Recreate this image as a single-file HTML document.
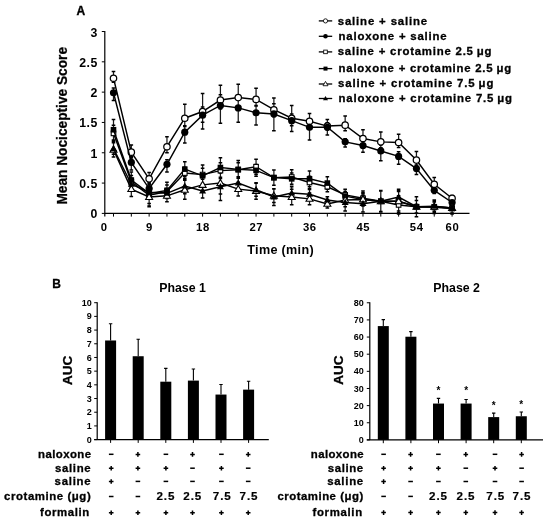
<!DOCTYPE html>
<html><head><meta charset="utf-8"><title>Figure</title>
<style>html,body{margin:0;padding:0;background:#fff;}svg{display:block;}</style></head>
<body><svg width="550" height="522" viewBox="0 0 550 522" font-family="Liberation Sans, Arial, sans-serif" font-weight="bold" fill="#000">
<rect width="550" height="522" fill="#fff"/>
<path d="M104.8,31 V216.5 M104.8,213.4 H469.5" stroke="#000" stroke-width="1.2" fill="none"/>
<path d="M101.8,213.40 H104.8 M101.8,183.09 H104.8 M101.8,152.77 H104.8 M101.8,122.45 H104.8 M101.8,92.14 H104.8 M101.8,61.82 H104.8 M101.8,31.51 H104.8 M113.50,213.4 V216.6 M131.32,213.4 V216.6 M149.14,213.4 V216.6 M166.96,213.4 V216.6 M184.78,213.4 V216.6 M202.60,213.4 V216.6 M220.42,213.4 V216.6 M238.24,213.4 V216.6 M256.06,213.4 V216.6 M273.88,213.4 V216.6 M291.70,213.4 V216.6 M309.52,213.4 V216.6 M327.34,213.4 V216.6 M345.16,213.4 V216.6 M362.98,213.4 V216.6 M380.80,213.4 V216.6 M398.62,213.4 V216.6 M416.44,213.4 V216.6 M434.26,213.4 V216.6 M452.08,213.4 V216.6" stroke="#000" stroke-width="1" fill="none"/>
<text x="97.4" y="218.40" font-size="12.3" text-anchor="end">0</text>
<text x="97.4" y="188.09" font-size="12.3" text-anchor="end" textLength="18.2" lengthAdjust="spacing">0.5</text>
<text x="97.4" y="157.77" font-size="12.3" text-anchor="end">1</text>
<text x="97.4" y="127.45" font-size="12.3" text-anchor="end" textLength="18.2" lengthAdjust="spacing">1.5</text>
<text x="97.4" y="97.14" font-size="12.3" text-anchor="end">2</text>
<text x="97.4" y="66.82" font-size="12.3" text-anchor="end" textLength="18.2" lengthAdjust="spacing">2.5</text>
<text x="97.4" y="36.51" font-size="12.3" text-anchor="end">3</text>
<text x="103.80" y="230.5" font-size="11.3" text-anchor="middle">0</text>
<text x="149.14" y="230.5" font-size="11.3" text-anchor="middle">9</text>
<text x="202.60" y="230.5" font-size="11.3" text-anchor="middle" textLength="13.2" lengthAdjust="spacing">18</text>
<text x="256.06" y="230.5" font-size="11.3" text-anchor="middle" textLength="13.2" lengthAdjust="spacing">27</text>
<text x="309.52" y="230.5" font-size="11.3" text-anchor="middle" textLength="13.2" lengthAdjust="spacing">36</text>
<text x="362.98" y="230.5" font-size="11.3" text-anchor="middle" textLength="13.2" lengthAdjust="spacing">45</text>
<text x="416.44" y="230.5" font-size="11.3" text-anchor="middle" textLength="13.2" lengthAdjust="spacing">54</text>
<text x="452.08" y="230.5" font-size="11.3" text-anchor="middle" textLength="13.2" lengthAdjust="spacing">60</text>
<text x="247.3" y="253.7" font-size="12.6" textLength="66.3" lengthAdjust="spacing">Time (min)</text>
<text transform="translate(66.7,204.6) rotate(-90)" x="0" y="0" font-size="14" textLength="157.6" lengthAdjust="spacingAndGlyphs" stroke="#000" stroke-width="0.25">Mean Nociceptive Score</text>
<text x="76.6" y="15.3" font-size="12" stroke="#000" stroke-width="0.35">A</text>
<path d="M113.50,71.50 V82.21 M113.50,88.03 V100.60 M113.50,125.18 V141.55 M113.50,119.50 V139.96 M113.50,142.48 V157.00 M113.50,142.72 V154.34 M131.32,145.00 V156.46 M131.32,157.95 V170.00 M131.32,175.43 V188.32 M131.32,172.00 V188.11 M131.32,181.70 V196.60 M131.32,178.34 V190.26 M149.14,172.50 V182.65 M149.14,184.07 V196.00 M149.14,184.50 V205.92 M149.14,180.00 V206.78 M149.14,190.56 V203.50 M149.14,187.00 V197.36 M166.96,136.70 V152.71 M166.96,159.66 V172.00 M166.96,185.04 V198.10 M166.96,182.20 V198.52 M166.96,189.83 V201.80 M166.96,188.61 V198.18 M184.78,104.20 V126.62 M184.78,125.71 V142.90 M184.78,167.21 V178.95 M184.78,161.80 V176.48 M184.78,180.31 V199.20 M184.78,178.56 V193.67 M202.60,93.50 V122.37 M202.60,106.89 V129.00 M202.60,165.00 V184.19 M202.60,168.13 V183.49 M202.60,179.28 V190.53 M202.60,183.93 V198.00 M220.42,85.20 V108.92 M220.42,94.85 V123.20 M220.42,162.75 V178.44 M220.42,157.70 V177.31 M220.42,172.14 V194.03 M220.42,173.05 V200.40 M238.24,84.20 V105.63 M238.24,99.33 V122.20 M238.24,162.72 V176.77 M238.24,160.60 V178.17 M238.24,182.30 V196.00 M238.24,177.60 V188.57 M256.06,88.30 V106.08 M256.06,105.41 V125.00 M256.06,159.30 V174.13 M256.06,164.42 V176.28 M256.06,182.73 V199.20 M256.06,183.17 V196.34 M273.88,98.00 V116.76 M273.88,103.87 V130.80 M273.88,170.00 V185.26 M273.88,170.00 V185.26 M273.88,189.12 V202.51 M273.88,188.66 V205.40 M291.70,105.50 V125.84 M291.70,114.12 V131.50 M291.70,169.70 V184.34 M291.70,172.98 V184.70 M291.70,189.26 V204.80 M291.70,186.87 V199.31 M309.52,113.50 V125.89 M309.52,119.69 V140.00 M309.52,176.21 V188.75 M309.52,171.00 V186.68 M309.52,192.90 V204.80 M309.52,189.54 V199.06 M327.34,119.40 V130.11 M327.34,122.69 V135.00 M327.34,181.69 V191.75 M327.34,176.80 V189.37 M327.34,199.86 V207.90 M327.34,196.85 V203.28 M345.16,115.90 V130.75 M345.16,138.77 V147.00 M345.16,189.20 V200.62 M345.16,191.55 V200.69 M345.16,193.25 V206.87 M345.16,193.97 V211.00 M362.98,129.70 V143.82 M362.98,141.47 V152.20 M362.98,191.00 V205.49 M362.98,193.66 V205.25 M362.98,192.81 V206.10 M362.98,195.40 V212.00 M380.80,132.10 V147.71 M380.80,145.04 V160.80 M380.80,191.10 V211.45 M380.80,191.10 V211.45 M380.80,190.55 V212.00 M380.80,190.55 V212.00 M398.62,134.20 V147.42 M398.62,151.67 V164.30 M398.62,195.81 V214.01 M398.62,189.90 V212.65 M398.62,191.55 V211.00 M398.62,189.25 V204.81 M416.44,151.50 V165.17 M416.44,164.89 V174.60 M416.44,196.70 V216.76 M416.44,196.70 V216.76 M416.44,200.46 V213.00 M416.44,200.46 V213.00 M434.26,177.40 V188.44 M434.26,188.42 V193.60 M434.26,201.95 V212.72 M434.26,200.00 V213.46 M434.26,200.46 V213.00 M434.26,201.11 V211.14 M452.08,195.40 V199.95 M452.08,200.56 V205.70 M452.08,203.79 V213.30 M452.08,202.00 V213.89 M452.08,202.89 V213.00 M452.08,202.89 V213.00" stroke="#1a1a1a" stroke-width="1.25" fill="none"/>
<path d="M111.70,71.50 H115.30 M111.70,82.21 H115.30 M111.70,88.03 H115.30 M111.70,100.60 H115.30 M111.70,125.18 H115.30 M111.70,141.55 H115.30 M111.70,119.50 H115.30 M111.70,139.96 H115.30 M111.70,142.48 H115.30 M111.70,157.00 H115.30 M111.70,142.72 H115.30 M111.70,154.34 H115.30 M129.52,145.00 H133.12 M129.52,156.46 H133.12 M129.52,157.95 H133.12 M129.52,170.00 H133.12 M129.52,175.43 H133.12 M129.52,188.32 H133.12 M129.52,172.00 H133.12 M129.52,188.11 H133.12 M129.52,181.70 H133.12 M129.52,196.60 H133.12 M129.52,178.34 H133.12 M129.52,190.26 H133.12 M147.34,172.50 H150.94 M147.34,182.65 H150.94 M147.34,184.07 H150.94 M147.34,196.00 H150.94 M147.34,184.50 H150.94 M147.34,205.92 H150.94 M147.34,180.00 H150.94 M147.34,206.78 H150.94 M147.34,190.56 H150.94 M147.34,203.50 H150.94 M147.34,187.00 H150.94 M147.34,197.36 H150.94 M165.16,136.70 H168.76 M165.16,152.71 H168.76 M165.16,159.66 H168.76 M165.16,172.00 H168.76 M165.16,185.04 H168.76 M165.16,198.10 H168.76 M165.16,182.20 H168.76 M165.16,198.52 H168.76 M165.16,189.83 H168.76 M165.16,201.80 H168.76 M165.16,188.61 H168.76 M165.16,198.18 H168.76 M182.98,104.20 H186.58 M182.98,126.62 H186.58 M182.98,125.71 H186.58 M182.98,142.90 H186.58 M182.98,167.21 H186.58 M182.98,178.95 H186.58 M182.98,161.80 H186.58 M182.98,176.48 H186.58 M182.98,180.31 H186.58 M182.98,199.20 H186.58 M182.98,178.56 H186.58 M182.98,193.67 H186.58 M200.80,93.50 H204.40 M200.80,122.37 H204.40 M200.80,106.89 H204.40 M200.80,129.00 H204.40 M200.80,165.00 H204.40 M200.80,184.19 H204.40 M200.80,168.13 H204.40 M200.80,183.49 H204.40 M200.80,179.28 H204.40 M200.80,190.53 H204.40 M200.80,183.93 H204.40 M200.80,198.00 H204.40 M218.62,85.20 H222.22 M218.62,108.92 H222.22 M218.62,94.85 H222.22 M218.62,123.20 H222.22 M218.62,162.75 H222.22 M218.62,178.44 H222.22 M218.62,157.70 H222.22 M218.62,177.31 H222.22 M218.62,172.14 H222.22 M218.62,194.03 H222.22 M218.62,173.05 H222.22 M218.62,200.40 H222.22 M236.44,84.20 H240.04 M236.44,105.63 H240.04 M236.44,99.33 H240.04 M236.44,122.20 H240.04 M236.44,162.72 H240.04 M236.44,176.77 H240.04 M236.44,160.60 H240.04 M236.44,178.17 H240.04 M236.44,182.30 H240.04 M236.44,196.00 H240.04 M236.44,177.60 H240.04 M236.44,188.57 H240.04 M254.26,88.30 H257.86 M254.26,106.08 H257.86 M254.26,105.41 H257.86 M254.26,125.00 H257.86 M254.26,159.30 H257.86 M254.26,174.13 H257.86 M254.26,164.42 H257.86 M254.26,176.28 H257.86 M254.26,182.73 H257.86 M254.26,199.20 H257.86 M254.26,183.17 H257.86 M254.26,196.34 H257.86 M272.08,98.00 H275.68 M272.08,116.76 H275.68 M272.08,103.87 H275.68 M272.08,130.80 H275.68 M272.08,170.00 H275.68 M272.08,185.26 H275.68 M272.08,170.00 H275.68 M272.08,185.26 H275.68 M272.08,189.12 H275.68 M272.08,202.51 H275.68 M272.08,188.66 H275.68 M272.08,205.40 H275.68 M289.90,105.50 H293.50 M289.90,125.84 H293.50 M289.90,114.12 H293.50 M289.90,131.50 H293.50 M289.90,169.70 H293.50 M289.90,184.34 H293.50 M289.90,172.98 H293.50 M289.90,184.70 H293.50 M289.90,189.26 H293.50 M289.90,204.80 H293.50 M289.90,186.87 H293.50 M289.90,199.31 H293.50 M307.72,113.50 H311.32 M307.72,125.89 H311.32 M307.72,119.69 H311.32 M307.72,140.00 H311.32 M307.72,176.21 H311.32 M307.72,188.75 H311.32 M307.72,171.00 H311.32 M307.72,186.68 H311.32 M307.72,192.90 H311.32 M307.72,204.80 H311.32 M307.72,189.54 H311.32 M307.72,199.06 H311.32 M325.54,119.40 H329.14 M325.54,130.11 H329.14 M325.54,122.69 H329.14 M325.54,135.00 H329.14 M325.54,181.69 H329.14 M325.54,191.75 H329.14 M325.54,176.80 H329.14 M325.54,189.37 H329.14 M325.54,199.86 H329.14 M325.54,207.90 H329.14 M325.54,196.85 H329.14 M325.54,203.28 H329.14 M343.36,115.90 H346.96 M343.36,130.75 H346.96 M343.36,138.77 H346.96 M343.36,147.00 H346.96 M343.36,189.20 H346.96 M343.36,200.62 H346.96 M343.36,191.55 H346.96 M343.36,200.69 H346.96 M343.36,193.25 H346.96 M343.36,206.87 H346.96 M343.36,193.97 H346.96 M343.36,211.00 H346.96 M361.18,129.70 H364.78 M361.18,143.82 H364.78 M361.18,141.47 H364.78 M361.18,152.20 H364.78 M361.18,191.00 H364.78 M361.18,205.49 H364.78 M361.18,193.66 H364.78 M361.18,205.25 H364.78 M361.18,192.81 H364.78 M361.18,206.10 H364.78 M361.18,195.40 H364.78 M361.18,212.00 H364.78 M379.00,132.10 H382.60 M379.00,147.71 H382.60 M379.00,145.04 H382.60 M379.00,160.80 H382.60 M379.00,191.10 H382.60 M379.00,211.45 H382.60 M379.00,191.10 H382.60 M379.00,211.45 H382.60 M379.00,190.55 H382.60 M379.00,212.00 H382.60 M379.00,190.55 H382.60 M379.00,212.00 H382.60 M396.82,134.20 H400.42 M396.82,147.42 H400.42 M396.82,151.67 H400.42 M396.82,164.30 H400.42 M396.82,195.81 H400.42 M396.82,214.01 H400.42 M396.82,189.90 H400.42 M396.82,212.65 H400.42 M396.82,191.55 H400.42 M396.82,211.00 H400.42 M396.82,189.25 H400.42 M396.82,204.81 H400.42 M414.64,151.50 H418.24 M414.64,165.17 H418.24 M414.64,164.89 H418.24 M414.64,174.60 H418.24 M414.64,196.70 H418.24 M414.64,216.76 H418.24 M414.64,196.70 H418.24 M414.64,216.76 H418.24 M414.64,200.46 H418.24 M414.64,213.00 H418.24 M414.64,200.46 H418.24 M414.64,213.00 H418.24 M432.46,177.40 H436.06 M432.46,188.44 H436.06 M432.46,188.42 H436.06 M432.46,193.60 H436.06 M432.46,201.95 H436.06 M432.46,212.72 H436.06 M432.46,200.00 H436.06 M432.46,213.46 H436.06 M432.46,200.46 H436.06 M432.46,213.00 H436.06 M432.46,201.11 H436.06 M432.46,211.14 H436.06 M450.28,195.40 H453.88 M450.28,199.95 H453.88 M450.28,200.56 H453.88 M450.28,205.70 H453.88 M450.28,203.79 H453.88 M450.28,213.30 H453.88 M450.28,202.00 H453.88 M450.28,213.89 H453.88 M450.28,202.89 H453.88 M450.28,213.00 H453.88 M450.28,202.89 H453.88 M450.28,213.00 H453.88" stroke="#000" stroke-width="1.5" fill="none"/>
<polyline points="113.50,78.20 131.32,152.16 149.14,178.84 166.96,146.71 184.78,118.21 202.60,111.54 220.42,100.02 238.24,97.60 256.06,99.42 273.88,109.72 291.70,118.21 309.52,121.24 327.34,126.09 345.16,125.18 362.98,138.52 380.80,141.86 398.62,142.46 416.44,160.05 434.26,184.30 452.08,198.24" fill="none" stroke="#000" stroke-width="1.45"/>
<circle cx="113.50" cy="78.20" r="3.2" fill="#fff" stroke="#000" stroke-width="1.25"/>
<circle cx="131.32" cy="152.16" r="3.2" fill="#fff" stroke="#000" stroke-width="1.25"/>
<circle cx="149.14" cy="178.84" r="3.2" fill="#fff" stroke="#000" stroke-width="1.25"/>
<circle cx="166.96" cy="146.71" r="3.2" fill="#fff" stroke="#000" stroke-width="1.25"/>
<circle cx="184.78" cy="118.21" r="3.2" fill="#fff" stroke="#000" stroke-width="1.25"/>
<circle cx="202.60" cy="111.54" r="3.2" fill="#fff" stroke="#000" stroke-width="1.25"/>
<circle cx="220.42" cy="100.02" r="3.2" fill="#fff" stroke="#000" stroke-width="1.25"/>
<circle cx="238.24" cy="97.60" r="3.2" fill="#fff" stroke="#000" stroke-width="1.25"/>
<circle cx="256.06" cy="99.42" r="3.2" fill="#fff" stroke="#000" stroke-width="1.25"/>
<circle cx="273.88" cy="109.72" r="3.2" fill="#fff" stroke="#000" stroke-width="1.25"/>
<circle cx="291.70" cy="118.21" r="3.2" fill="#fff" stroke="#000" stroke-width="1.25"/>
<circle cx="309.52" cy="121.24" r="3.2" fill="#fff" stroke="#000" stroke-width="1.25"/>
<circle cx="327.34" cy="126.09" r="3.2" fill="#fff" stroke="#000" stroke-width="1.25"/>
<circle cx="345.16" cy="125.18" r="3.2" fill="#fff" stroke="#000" stroke-width="1.25"/>
<circle cx="362.98" cy="138.52" r="3.2" fill="#fff" stroke="#000" stroke-width="1.25"/>
<circle cx="380.80" cy="141.86" r="3.2" fill="#fff" stroke="#000" stroke-width="1.25"/>
<circle cx="398.62" cy="142.46" r="3.2" fill="#fff" stroke="#000" stroke-width="1.25"/>
<circle cx="416.44" cy="160.05" r="3.2" fill="#fff" stroke="#000" stroke-width="1.25"/>
<circle cx="434.26" cy="184.30" r="3.2" fill="#fff" stroke="#000" stroke-width="1.25"/>
<circle cx="452.08" cy="198.24" r="3.2" fill="#fff" stroke="#000" stroke-width="1.25"/>
<polyline points="113.50,92.75 131.32,162.47 149.14,188.54 166.96,164.29 184.78,132.16 202.60,115.18 220.42,105.48 238.24,107.90 256.06,112.75 273.88,113.97 291.70,120.64 309.52,127.31 327.34,127.31 345.16,141.86 362.98,145.49 380.80,150.95 398.62,156.41 416.44,168.53 434.26,190.36 452.08,202.49" fill="none" stroke="#000" stroke-width="1.45"/>
<circle cx="113.50" cy="92.75" r="3.6" fill="#000"/>
<circle cx="131.32" cy="162.47" r="3.6" fill="#000"/>
<circle cx="149.14" cy="188.54" r="3.6" fill="#000"/>
<circle cx="166.96" cy="164.29" r="3.6" fill="#000"/>
<circle cx="184.78" cy="132.16" r="3.6" fill="#000"/>
<circle cx="202.60" cy="115.18" r="3.6" fill="#000"/>
<circle cx="220.42" cy="105.48" r="3.6" fill="#000"/>
<circle cx="238.24" cy="107.90" r="3.6" fill="#000"/>
<circle cx="256.06" cy="112.75" r="3.6" fill="#000"/>
<circle cx="273.88" cy="113.97" r="3.6" fill="#000"/>
<circle cx="291.70" cy="120.64" r="3.6" fill="#000"/>
<circle cx="309.52" cy="127.31" r="3.6" fill="#000"/>
<circle cx="327.34" cy="127.31" r="3.6" fill="#000"/>
<circle cx="345.16" cy="141.86" r="3.6" fill="#000"/>
<circle cx="362.98" cy="145.49" r="3.6" fill="#000"/>
<circle cx="380.80" cy="150.95" r="3.6" fill="#000"/>
<circle cx="398.62" cy="156.41" r="3.6" fill="#000"/>
<circle cx="416.44" cy="168.53" r="3.6" fill="#000"/>
<circle cx="434.26" cy="190.36" r="3.6" fill="#000"/>
<circle cx="452.08" cy="202.49" r="3.6" fill="#000"/>
<polyline points="113.50,133.37 131.32,181.87 149.14,195.21 166.96,191.57 184.78,173.08 202.60,174.60 220.42,170.60 238.24,169.75 256.06,166.71 273.88,177.63 291.70,177.02 309.52,182.48 327.34,186.72 345.16,194.91 362.98,198.24 380.80,201.27 398.62,204.91 416.44,206.73 434.26,207.34 452.08,208.55" fill="none" stroke="#000" stroke-width="1.45"/>
<rect x="111.20" y="131.07" width="4.6" height="4.6" fill="#fff" stroke="#000" stroke-width="1.1"/>
<rect x="129.02" y="179.57" width="4.6" height="4.6" fill="#fff" stroke="#000" stroke-width="1.1"/>
<rect x="146.84" y="192.91" width="4.6" height="4.6" fill="#fff" stroke="#000" stroke-width="1.1"/>
<rect x="164.66" y="189.27" width="4.6" height="4.6" fill="#fff" stroke="#000" stroke-width="1.1"/>
<rect x="182.48" y="170.78" width="4.6" height="4.6" fill="#fff" stroke="#000" stroke-width="1.1"/>
<rect x="200.30" y="172.30" width="4.6" height="4.6" fill="#fff" stroke="#000" stroke-width="1.1"/>
<rect x="218.12" y="168.30" width="4.6" height="4.6" fill="#fff" stroke="#000" stroke-width="1.1"/>
<rect x="235.94" y="167.45" width="4.6" height="4.6" fill="#fff" stroke="#000" stroke-width="1.1"/>
<rect x="253.76" y="164.41" width="4.6" height="4.6" fill="#fff" stroke="#000" stroke-width="1.1"/>
<rect x="271.58" y="175.33" width="4.6" height="4.6" fill="#fff" stroke="#000" stroke-width="1.1"/>
<rect x="289.40" y="174.72" width="4.6" height="4.6" fill="#fff" stroke="#000" stroke-width="1.1"/>
<rect x="307.22" y="180.18" width="4.6" height="4.6" fill="#fff" stroke="#000" stroke-width="1.1"/>
<rect x="325.04" y="184.42" width="4.6" height="4.6" fill="#fff" stroke="#000" stroke-width="1.1"/>
<rect x="342.86" y="192.61" width="4.6" height="4.6" fill="#fff" stroke="#000" stroke-width="1.1"/>
<rect x="360.68" y="195.94" width="4.6" height="4.6" fill="#fff" stroke="#000" stroke-width="1.1"/>
<rect x="378.50" y="198.97" width="4.6" height="4.6" fill="#fff" stroke="#000" stroke-width="1.1"/>
<rect x="396.32" y="202.61" width="4.6" height="4.6" fill="#fff" stroke="#000" stroke-width="1.1"/>
<rect x="414.14" y="204.43" width="4.6" height="4.6" fill="#fff" stroke="#000" stroke-width="1.1"/>
<rect x="431.96" y="205.04" width="4.6" height="4.6" fill="#fff" stroke="#000" stroke-width="1.1"/>
<rect x="449.78" y="206.25" width="4.6" height="4.6" fill="#fff" stroke="#000" stroke-width="1.1"/>
<polyline points="113.50,129.73 131.32,180.05 149.14,193.39 166.96,190.36 184.78,169.14 202.60,175.81 220.42,167.50 238.24,169.38 256.06,170.35 273.88,177.63 291.70,178.84 309.52,178.84 327.34,183.09 345.16,196.12 362.98,199.46 380.80,201.27 398.62,201.27 416.44,206.73 434.26,206.73 452.08,207.94" fill="none" stroke="#000" stroke-width="1.45"/>
<rect x="110.70" y="126.93" width="5.6" height="5.6" fill="#000"/>
<rect x="128.52" y="177.25" width="5.6" height="5.6" fill="#000"/>
<rect x="146.34" y="190.59" width="5.6" height="5.6" fill="#000"/>
<rect x="164.16" y="187.56" width="5.6" height="5.6" fill="#000"/>
<rect x="181.98" y="166.34" width="5.6" height="5.6" fill="#000"/>
<rect x="199.80" y="173.01" width="5.6" height="5.6" fill="#000"/>
<rect x="217.62" y="164.70" width="5.6" height="5.6" fill="#000"/>
<rect x="235.44" y="166.58" width="5.6" height="5.6" fill="#000"/>
<rect x="253.26" y="167.55" width="5.6" height="5.6" fill="#000"/>
<rect x="271.08" y="174.83" width="5.6" height="5.6" fill="#000"/>
<rect x="288.90" y="176.04" width="5.6" height="5.6" fill="#000"/>
<rect x="306.72" y="176.04" width="5.6" height="5.6" fill="#000"/>
<rect x="324.54" y="180.28" width="5.6" height="5.6" fill="#000"/>
<rect x="342.36" y="193.32" width="5.6" height="5.6" fill="#000"/>
<rect x="360.18" y="196.66" width="5.6" height="5.6" fill="#000"/>
<rect x="378.00" y="198.47" width="5.6" height="5.6" fill="#000"/>
<rect x="395.82" y="198.47" width="5.6" height="5.6" fill="#000"/>
<rect x="413.64" y="203.93" width="5.6" height="5.6" fill="#000"/>
<rect x="431.46" y="203.93" width="5.6" height="5.6" fill="#000"/>
<rect x="449.28" y="205.14" width="5.6" height="5.6" fill="#000"/>
<polyline points="113.50,149.74 131.32,189.15 149.14,197.03 166.96,195.82 184.78,189.75 202.60,184.90 220.42,183.09 238.24,189.15 256.06,190.97 273.88,195.82 291.70,197.03 309.52,198.85 327.34,203.88 345.16,200.06 362.98,199.46 380.80,201.27 398.62,201.27 416.44,206.73 434.26,206.73 452.08,207.94" fill="none" stroke="#000" stroke-width="1.45"/>
<polygon points="113.50,146.10 117.00,152.16 110.00,152.16" fill="#fff" stroke="#000" stroke-width="1.1"/>
<polygon points="131.32,185.51 134.82,191.57 127.82,191.57" fill="#fff" stroke="#000" stroke-width="1.1"/>
<polygon points="149.14,193.39 152.64,199.45 145.64,199.45" fill="#fff" stroke="#000" stroke-width="1.1"/>
<polygon points="166.96,192.18 170.46,198.24 163.46,198.24" fill="#fff" stroke="#000" stroke-width="1.1"/>
<polygon points="184.78,186.12 188.28,192.18 181.28,192.18" fill="#fff" stroke="#000" stroke-width="1.1"/>
<polygon points="202.60,181.27 206.10,187.33 199.10,187.33" fill="#fff" stroke="#000" stroke-width="1.1"/>
<polygon points="220.42,179.45 223.92,185.51 216.92,185.51" fill="#fff" stroke="#000" stroke-width="1.1"/>
<polygon points="238.24,185.51 241.74,191.57 234.74,191.57" fill="#fff" stroke="#000" stroke-width="1.1"/>
<polygon points="256.06,187.33 259.56,193.39 252.56,193.39" fill="#fff" stroke="#000" stroke-width="1.1"/>
<polygon points="273.88,192.18 277.38,198.24 270.38,198.24" fill="#fff" stroke="#000" stroke-width="1.1"/>
<polygon points="291.70,193.39 295.20,199.45 288.20,199.45" fill="#fff" stroke="#000" stroke-width="1.1"/>
<polygon points="309.52,195.21 313.02,201.27 306.02,201.27" fill="#fff" stroke="#000" stroke-width="1.1"/>
<polygon points="327.34,200.24 330.84,206.31 323.84,206.31" fill="#fff" stroke="#000" stroke-width="1.1"/>
<polygon points="345.16,196.42 348.66,202.49 341.66,202.49" fill="#fff" stroke="#000" stroke-width="1.1"/>
<polygon points="362.98,195.82 366.48,201.88 359.48,201.88" fill="#fff" stroke="#000" stroke-width="1.1"/>
<polygon points="380.80,197.64 384.30,203.70 377.30,203.70" fill="#fff" stroke="#000" stroke-width="1.1"/>
<polygon points="398.62,197.64 402.12,203.70 395.12,203.70" fill="#fff" stroke="#000" stroke-width="1.1"/>
<polygon points="416.44,203.09 419.94,209.16 412.94,209.16" fill="#fff" stroke="#000" stroke-width="1.1"/>
<polygon points="434.26,203.09 437.76,209.16 430.76,209.16" fill="#fff" stroke="#000" stroke-width="1.1"/>
<polygon points="452.08,204.31 455.58,210.37 448.58,210.37" fill="#fff" stroke="#000" stroke-width="1.1"/>
<polyline points="113.50,148.53 131.32,184.30 149.14,192.18 166.96,193.39 184.78,186.12 202.60,190.97 220.42,186.72 238.24,183.09 256.06,189.75 273.88,197.03 291.70,193.09 309.52,194.30 327.34,200.06 345.16,202.49 362.98,203.70 380.80,201.27 398.62,197.03 416.44,206.73 434.26,206.12 452.08,207.94" fill="none" stroke="#000" stroke-width="1.45"/>
<polygon points="113.50,144.89 117.00,150.95 110.00,150.95" fill="#000"/>
<polygon points="131.32,180.66 134.82,186.72 127.82,186.72" fill="#000"/>
<polygon points="149.14,188.54 152.64,194.60 145.64,194.60" fill="#000"/>
<polygon points="166.96,189.75 170.46,195.82 163.46,195.82" fill="#000"/>
<polygon points="184.78,182.48 188.28,188.54 181.28,188.54" fill="#000"/>
<polygon points="202.60,187.33 206.10,193.39 199.10,193.39" fill="#000"/>
<polygon points="220.42,183.09 223.92,189.15 216.92,189.15" fill="#000"/>
<polygon points="238.24,179.45 241.74,185.51 234.74,185.51" fill="#000"/>
<polygon points="256.06,186.12 259.56,192.18 252.56,192.18" fill="#000"/>
<polygon points="273.88,193.39 277.38,199.45 270.38,199.45" fill="#000"/>
<polygon points="291.70,189.45 295.20,195.51 288.20,195.51" fill="#000"/>
<polygon points="309.52,190.66 313.02,196.73 306.02,196.73" fill="#000"/>
<polygon points="327.34,196.42 330.84,202.49 323.84,202.49" fill="#000"/>
<polygon points="345.16,198.85 348.66,204.91 341.66,204.91" fill="#000"/>
<polygon points="362.98,200.06 366.48,206.12 359.48,206.12" fill="#000"/>
<polygon points="380.80,197.64 384.30,203.70 377.30,203.70" fill="#000"/>
<polygon points="398.62,193.39 402.12,199.45 395.12,199.45" fill="#000"/>
<polygon points="416.44,203.09 419.94,209.16 412.94,209.16" fill="#000"/>
<polygon points="434.26,202.49 437.76,208.55 430.76,208.55" fill="#000"/>
<polygon points="452.08,204.31 455.58,210.37 448.58,210.37" fill="#000"/>
<path d="M318.8,20.9 H332.2" stroke="#000" stroke-width="1.3"/>
<circle cx="325.50" cy="20.90" r="2.1" fill="#fff" stroke="#000" stroke-width="0.85"/>
<text x="337.7" y="25.1" font-size="11.4" textLength="89.5" lengthAdjust="spacing" stroke="#000" stroke-width="0.3">saline + saline</text>
<path d="M318.8,36.3 H332.2" stroke="#000" stroke-width="1.3"/>
<circle cx="325.50" cy="36.30" r="2.3" fill="#000"/>
<text x="338.6" y="39.7" font-size="11.4" textLength="108" lengthAdjust="spacing" stroke="#000" stroke-width="0.3">naloxone + saline</text>
<path d="M318.8,51.9 H332.2" stroke="#000" stroke-width="1.3"/>
<rect x="323.70" y="50.10" width="3.6" height="3.6" fill="#fff" stroke="#000" stroke-width="0.85"/>
<text x="337.7" y="54.7" font-size="11.4" textLength="153.8" lengthAdjust="spacing" stroke="#000" stroke-width="0.3">saline + crotamine 2.5 μg</text>
<path d="M318.8,68.6 H332.2" stroke="#000" stroke-width="1.3"/>
<rect x="323.50" y="66.60" width="4" height="4" fill="#000"/>
<text x="338.6" y="71.9" font-size="11.4" textLength="172.5" lengthAdjust="spacing" stroke="#000" stroke-width="0.3">naloxone + crotamine 2.5 μg</text>
<path d="M318.8,84.0 H332.2" stroke="#000" stroke-width="1.3"/>
<polygon points="325.50,81.40 328.00,85.73 323.00,85.73" fill="#fff" stroke="#000" stroke-width="0.85"/>
<text x="338.0" y="87.0" font-size="11.4" textLength="155.4" lengthAdjust="spacing" stroke="#000" stroke-width="0.3">saline + crotamine 7.5 μg</text>
<path d="M318.8,98.5 H332.2" stroke="#000" stroke-width="1.3"/>
<polygon points="325.50,95.90 328.00,100.23 323.00,100.23" fill="#000"/>
<text x="338.6" y="101.6" font-size="11.4" textLength="173.3" lengthAdjust="spacing" stroke="#000" stroke-width="0.3">naloxone + crotamine 7.5 μg</text>
<text x="52.2" y="288.3" font-size="12" stroke="#000" stroke-width="0.3">B</text>
<path d="M97.2,302.20 V439.6 M94.2,439.6 H268.8" stroke="#000" stroke-width="1.2" fill="none"/>
<text x="91.7" y="442.70" font-size="9" text-anchor="end">0</text>
<text x="91.7" y="429.01" font-size="9" text-anchor="end">1</text>
<text x="91.7" y="415.32" font-size="9" text-anchor="end">2</text>
<text x="91.7" y="401.63" font-size="9" text-anchor="end">3</text>
<text x="91.7" y="387.94" font-size="9" text-anchor="end">4</text>
<text x="91.7" y="374.25" font-size="9" text-anchor="end">5</text>
<text x="91.7" y="360.56" font-size="9" text-anchor="end">6</text>
<text x="91.7" y="346.87" font-size="9" text-anchor="end">7</text>
<text x="91.7" y="333.18" font-size="9" text-anchor="end">8</text>
<text x="91.7" y="319.49" font-size="9" text-anchor="end">9</text>
<text x="91.7" y="305.80" font-size="9" text-anchor="end">10</text>
<path d="M94.2,439.60 H97.2 M94.2,425.91 H97.2 M94.2,412.22 H97.2 M94.2,398.53 H97.2 M94.2,384.84 H97.2 M94.2,371.15 H97.2 M94.2,357.46 H97.2 M94.2,343.77 H97.2 M94.2,330.08 H97.2 M94.2,316.39 H97.2 M94.2,302.70 H97.2 M110.60,439.6 V442.90000000000003 M138.20,439.6 V442.90000000000003 M165.80,439.6 V442.90000000000003 M193.40,439.6 V442.90000000000003 M221.00,439.6 V442.90000000000003 M248.60,439.6 V442.90000000000003" stroke="#000" stroke-width="1" fill="none"/>
<rect x="105.10" y="340.48" width="11" height="99.12" fill="#000"/>
<path d="M110.60,340.48 V323.78 M108.90,323.78 H112.30" stroke="#000" stroke-width="1.1"/>
<rect x="132.70" y="356.23" width="11" height="83.37" fill="#000"/>
<path d="M138.20,356.23 V339.25 M136.50,339.25 H139.90" stroke="#000" stroke-width="1.1"/>
<rect x="160.30" y="381.69" width="11" height="57.91" fill="#000"/>
<path d="M165.80,381.69 V368.41 M164.10,368.41 H167.50" stroke="#000" stroke-width="1.1"/>
<rect x="187.90" y="380.60" width="11" height="59.00" fill="#000"/>
<path d="M193.40,380.60 V368.96 M191.70,368.96 H195.10" stroke="#000" stroke-width="1.1"/>
<rect x="215.50" y="394.56" width="11" height="45.04" fill="#000"/>
<path d="M221.00,394.56 V384.57 M219.30,384.57 H222.70" stroke="#000" stroke-width="1.1"/>
<rect x="243.10" y="389.63" width="11" height="49.97" fill="#000"/>
<path d="M248.60,389.63 V381.28 M246.90,381.28 H250.30" stroke="#000" stroke-width="1.1"/>
<path d="M369.8,302.28 V439.9 M366.8,439.9 H543" stroke="#000" stroke-width="1.2" fill="none"/>
<text x="363.8" y="443.00" font-size="9" text-anchor="end">0</text>
<text x="363.8" y="425.86" font-size="9" text-anchor="end">10</text>
<text x="363.8" y="408.72" font-size="9" text-anchor="end">20</text>
<text x="363.8" y="391.58" font-size="9" text-anchor="end">30</text>
<text x="363.8" y="374.44" font-size="9" text-anchor="end">40</text>
<text x="363.8" y="357.30" font-size="9" text-anchor="end">50</text>
<text x="363.8" y="340.16" font-size="9" text-anchor="end">60</text>
<text x="363.8" y="323.02" font-size="9" text-anchor="end">70</text>
<text x="363.8" y="305.88" font-size="9" text-anchor="end">80</text>
<path d="M366.8,439.90 H369.8 M366.8,422.76 H369.8 M366.8,405.62 H369.8 M366.8,388.48 H369.8 M366.8,371.34 H369.8 M366.8,354.20 H369.8 M366.8,337.06 H369.8 M366.8,319.92 H369.8 M366.8,302.78 H369.8 M383.30,439.9 V443.2 M410.90,439.9 V443.2 M438.50,439.9 V443.2 M466.10,439.9 V443.2 M493.70,439.9 V443.2 M521.30,439.9 V443.2" stroke="#000" stroke-width="1" fill="none"/>
<rect x="377.80" y="326.09" width="11" height="113.81" fill="#000"/>
<path d="M383.30,326.09 V319.58 M381.60,319.58 H385.00" stroke="#000" stroke-width="1.1"/>
<rect x="405.40" y="336.72" width="11" height="103.18" fill="#000"/>
<path d="M410.90,336.72 V331.58 M409.20,331.58 H412.60" stroke="#000" stroke-width="1.1"/>
<rect x="433.00" y="403.56" width="11" height="36.34" fill="#000"/>
<path d="M438.50,403.56 V398.42 M436.80,398.42 H440.20" stroke="#000" stroke-width="1.1"/>
<text x="438.50" y="393.70" font-size="10" text-anchor="middle">*</text>
<rect x="460.60" y="403.56" width="11" height="36.34" fill="#000"/>
<path d="M466.10,403.56 V399.45 M464.40,399.45 H467.80" stroke="#000" stroke-width="1.1"/>
<text x="466.10" y="393.70" font-size="10" text-anchor="middle">*</text>
<rect x="488.20" y="417.10" width="11" height="22.80" fill="#000"/>
<path d="M493.70,417.10 V413.16 M492.00,413.16 H495.40" stroke="#000" stroke-width="1.1"/>
<text x="493.70" y="408.60" font-size="10" text-anchor="middle">*</text>
<rect x="515.80" y="416.25" width="11" height="23.65" fill="#000"/>
<path d="M521.30,416.25 V411.96 M519.60,411.96 H523.00" stroke="#000" stroke-width="1.1"/>
<text x="521.30" y="408.30" font-size="10" text-anchor="middle">*</text>
<text x="159.2" y="292.3" font-size="12" textLength="46.6" lengthAdjust="spacingAndGlyphs">Phase 1</text>
<text x="433.3" y="292.1" font-size="12" textLength="46.6" lengthAdjust="spacingAndGlyphs">Phase 2</text>
<text transform="translate(72.2,384.9) rotate(-90)" font-size="13.4" textLength="29.2" lengthAdjust="spacingAndGlyphs" stroke="#000" stroke-width="0.3">AUC</text>
<text transform="translate(343.1,384.7) rotate(-90)" font-size="13.4" textLength="29.2" lengthAdjust="spacingAndGlyphs" stroke="#000" stroke-width="0.3">AUC</text>
<text x="38.10" y="458.1" font-size="11.4" textLength="52.90" lengthAdjust="spacing" stroke="#000" stroke-width="0.3">naloxone</text>
<path d="M108.90,454.30 H113.50" stroke="#000" stroke-width="1.5"/>
<path d="M135.60,454.40 H140.20 M137.90,452.10 V456.70" stroke="#000" stroke-width="1.5"/>
<path d="M163.60,454.30 H168.20" stroke="#000" stroke-width="1.5"/>
<path d="M190.20,454.40 H194.80 M192.50,452.10 V456.70" stroke="#000" stroke-width="1.5"/>
<path d="M219.10,454.30 H223.70" stroke="#000" stroke-width="1.5"/>
<path d="M245.90,454.40 H250.50 M248.20,452.10 V456.70" stroke="#000" stroke-width="1.5"/>
<text x="55.00" y="472.0" font-size="11.4" textLength="35.70" lengthAdjust="spacing" stroke="#000" stroke-width="0.3">saline</text>
<path d="M108.90,468.30 H113.50 M111.20,466.00 V470.60" stroke="#000" stroke-width="1.5"/>
<path d="M135.60,468.30 H140.20 M137.90,466.00 V470.60" stroke="#000" stroke-width="1.5"/>
<path d="M163.60,468.30 H168.20 M165.90,466.00 V470.60" stroke="#000" stroke-width="1.5"/>
<path d="M190.20,468.20 H194.80" stroke="#000" stroke-width="1.5"/>
<path d="M219.10,468.30 H223.70 M221.40,466.00 V470.60" stroke="#000" stroke-width="1.5"/>
<path d="M245.90,468.20 H250.50" stroke="#000" stroke-width="1.5"/>
<text x="54.60" y="485.2" font-size="11.4" textLength="36.00" lengthAdjust="spacing" stroke="#000" stroke-width="0.3">saline</text>
<path d="M108.90,481.50 H113.50 M111.20,479.20 V483.80" stroke="#000" stroke-width="1.5"/>
<path d="M135.60,481.40 H140.20" stroke="#000" stroke-width="1.5"/>
<path d="M163.60,481.40 H168.20" stroke="#000" stroke-width="1.5"/>
<path d="M190.20,481.40 H194.80" stroke="#000" stroke-width="1.5"/>
<path d="M219.10,481.40 H223.70" stroke="#000" stroke-width="1.5"/>
<path d="M245.90,481.40 H250.50" stroke="#000" stroke-width="1.5"/>
<text x="4.10" y="500.3" font-size="11.4" textLength="86.60" lengthAdjust="spacing" stroke="#000" stroke-width="0.3">crotamine (μg)</text>
<path d="M108.90,496.50 H113.50" stroke="#000" stroke-width="1.5"/>
<path d="M135.60,496.50 H140.20" stroke="#000" stroke-width="1.5"/>
<text x="165.40" y="500.3" font-size="11.6" text-anchor="middle" textLength="18" lengthAdjust="spacing" stroke="#000" stroke-width="0.2">2.5</text>
<text x="192.30" y="500.3" font-size="11.6" text-anchor="middle" textLength="18" lengthAdjust="spacing" stroke="#000" stroke-width="0.2">2.5</text>
<text x="221.80" y="500.3" font-size="11.6" text-anchor="middle" textLength="18" lengthAdjust="spacing" stroke="#000" stroke-width="0.2">7.5</text>
<text x="248.50" y="500.3" font-size="11.6" text-anchor="middle" textLength="18" lengthAdjust="spacing" stroke="#000" stroke-width="0.2">7.5</text>
<text x="40.00" y="515.8" font-size="11.4" textLength="49.30" lengthAdjust="spacing" stroke="#000" stroke-width="0.3">formalin</text>
<path d="M108.90,512.80 H113.50 M111.20,510.50 V515.10" stroke="#000" stroke-width="1.5"/>
<path d="M135.60,512.80 H140.20 M137.90,510.50 V515.10" stroke="#000" stroke-width="1.5"/>
<path d="M163.60,512.80 H168.20 M165.90,510.50 V515.10" stroke="#000" stroke-width="1.5"/>
<path d="M190.20,512.80 H194.80 M192.50,510.50 V515.10" stroke="#000" stroke-width="1.5"/>
<path d="M219.10,512.80 H223.70 M221.40,510.50 V515.10" stroke="#000" stroke-width="1.5"/>
<path d="M245.90,512.80 H250.50 M248.20,510.50 V515.10" stroke="#000" stroke-width="1.5"/>
<text x="310.80" y="458.1" font-size="11.4" textLength="52.80" lengthAdjust="spacing" stroke="#000" stroke-width="0.3">naloxone</text>
<path d="M381.30,454.30 H385.90" stroke="#000" stroke-width="1.5"/>
<path d="M408.30,454.40 H412.90 M410.60,452.10 V456.70" stroke="#000" stroke-width="1.5"/>
<path d="M436.10,454.30 H440.70" stroke="#000" stroke-width="1.5"/>
<path d="M463.50,454.40 H468.10 M465.80,452.10 V456.70" stroke="#000" stroke-width="1.5"/>
<path d="M492.70,454.30 H497.30" stroke="#000" stroke-width="1.5"/>
<path d="M519.30,454.40 H523.90 M521.60,452.10 V456.70" stroke="#000" stroke-width="1.5"/>
<text x="327.80" y="472.0" font-size="11.4" textLength="35.40" lengthAdjust="spacing" stroke="#000" stroke-width="0.3">saline</text>
<path d="M381.30,468.30 H385.90 M383.60,466.00 V470.60" stroke="#000" stroke-width="1.5"/>
<path d="M408.30,468.30 H412.90 M410.60,466.00 V470.60" stroke="#000" stroke-width="1.5"/>
<path d="M436.10,468.30 H440.70 M438.40,466.00 V470.60" stroke="#000" stroke-width="1.5"/>
<path d="M463.50,468.20 H468.10" stroke="#000" stroke-width="1.5"/>
<path d="M492.70,468.30 H497.30 M495.00,466.00 V470.60" stroke="#000" stroke-width="1.5"/>
<path d="M519.30,468.20 H523.90" stroke="#000" stroke-width="1.5"/>
<text x="327.20" y="485.3" font-size="11.4" textLength="36.00" lengthAdjust="spacing" stroke="#000" stroke-width="0.3">saline</text>
<path d="M381.30,481.60 H385.90 M383.60,479.30 V483.90" stroke="#000" stroke-width="1.5"/>
<path d="M408.30,481.50 H412.90" stroke="#000" stroke-width="1.5"/>
<path d="M436.10,481.50 H440.70" stroke="#000" stroke-width="1.5"/>
<path d="M463.50,481.50 H468.10" stroke="#000" stroke-width="1.5"/>
<path d="M492.70,481.50 H497.30" stroke="#000" stroke-width="1.5"/>
<path d="M519.30,481.50 H523.90" stroke="#000" stroke-width="1.5"/>
<text x="277.40" y="500.2" font-size="11.4" textLength="85.80" lengthAdjust="spacing" stroke="#000" stroke-width="0.3">crotamine (μg)</text>
<path d="M381.30,496.40 H385.90" stroke="#000" stroke-width="1.5"/>
<path d="M408.30,496.40 H412.90" stroke="#000" stroke-width="1.5"/>
<text x="438.00" y="500.2" font-size="11.6" text-anchor="middle" textLength="18" lengthAdjust="spacing" stroke="#000" stroke-width="0.2">2.5</text>
<text x="465.50" y="500.2" font-size="11.6" text-anchor="middle" textLength="18" lengthAdjust="spacing" stroke="#000" stroke-width="0.2">2.5</text>
<text x="495.30" y="500.2" font-size="11.6" text-anchor="middle" textLength="18" lengthAdjust="spacing" stroke="#000" stroke-width="0.2">7.5</text>
<text x="521.50" y="500.2" font-size="11.6" text-anchor="middle" textLength="18" lengthAdjust="spacing" stroke="#000" stroke-width="0.2">7.5</text>
<text x="312.40" y="515.6" font-size="11.4" textLength="49.80" lengthAdjust="spacing" stroke="#000" stroke-width="0.3">formalin</text>
<path d="M381.30,512.60 H385.90 M383.60,510.30 V514.90" stroke="#000" stroke-width="1.5"/>
<path d="M408.30,512.60 H412.90 M410.60,510.30 V514.90" stroke="#000" stroke-width="1.5"/>
<path d="M436.10,512.60 H440.70 M438.40,510.30 V514.90" stroke="#000" stroke-width="1.5"/>
<path d="M463.50,512.60 H468.10 M465.80,510.30 V514.90" stroke="#000" stroke-width="1.5"/>
<path d="M492.70,512.60 H497.30 M495.00,510.30 V514.90" stroke="#000" stroke-width="1.5"/>
<path d="M519.30,512.60 H523.90 M521.60,510.30 V514.90" stroke="#000" stroke-width="1.5"/>
</svg></body></html>
